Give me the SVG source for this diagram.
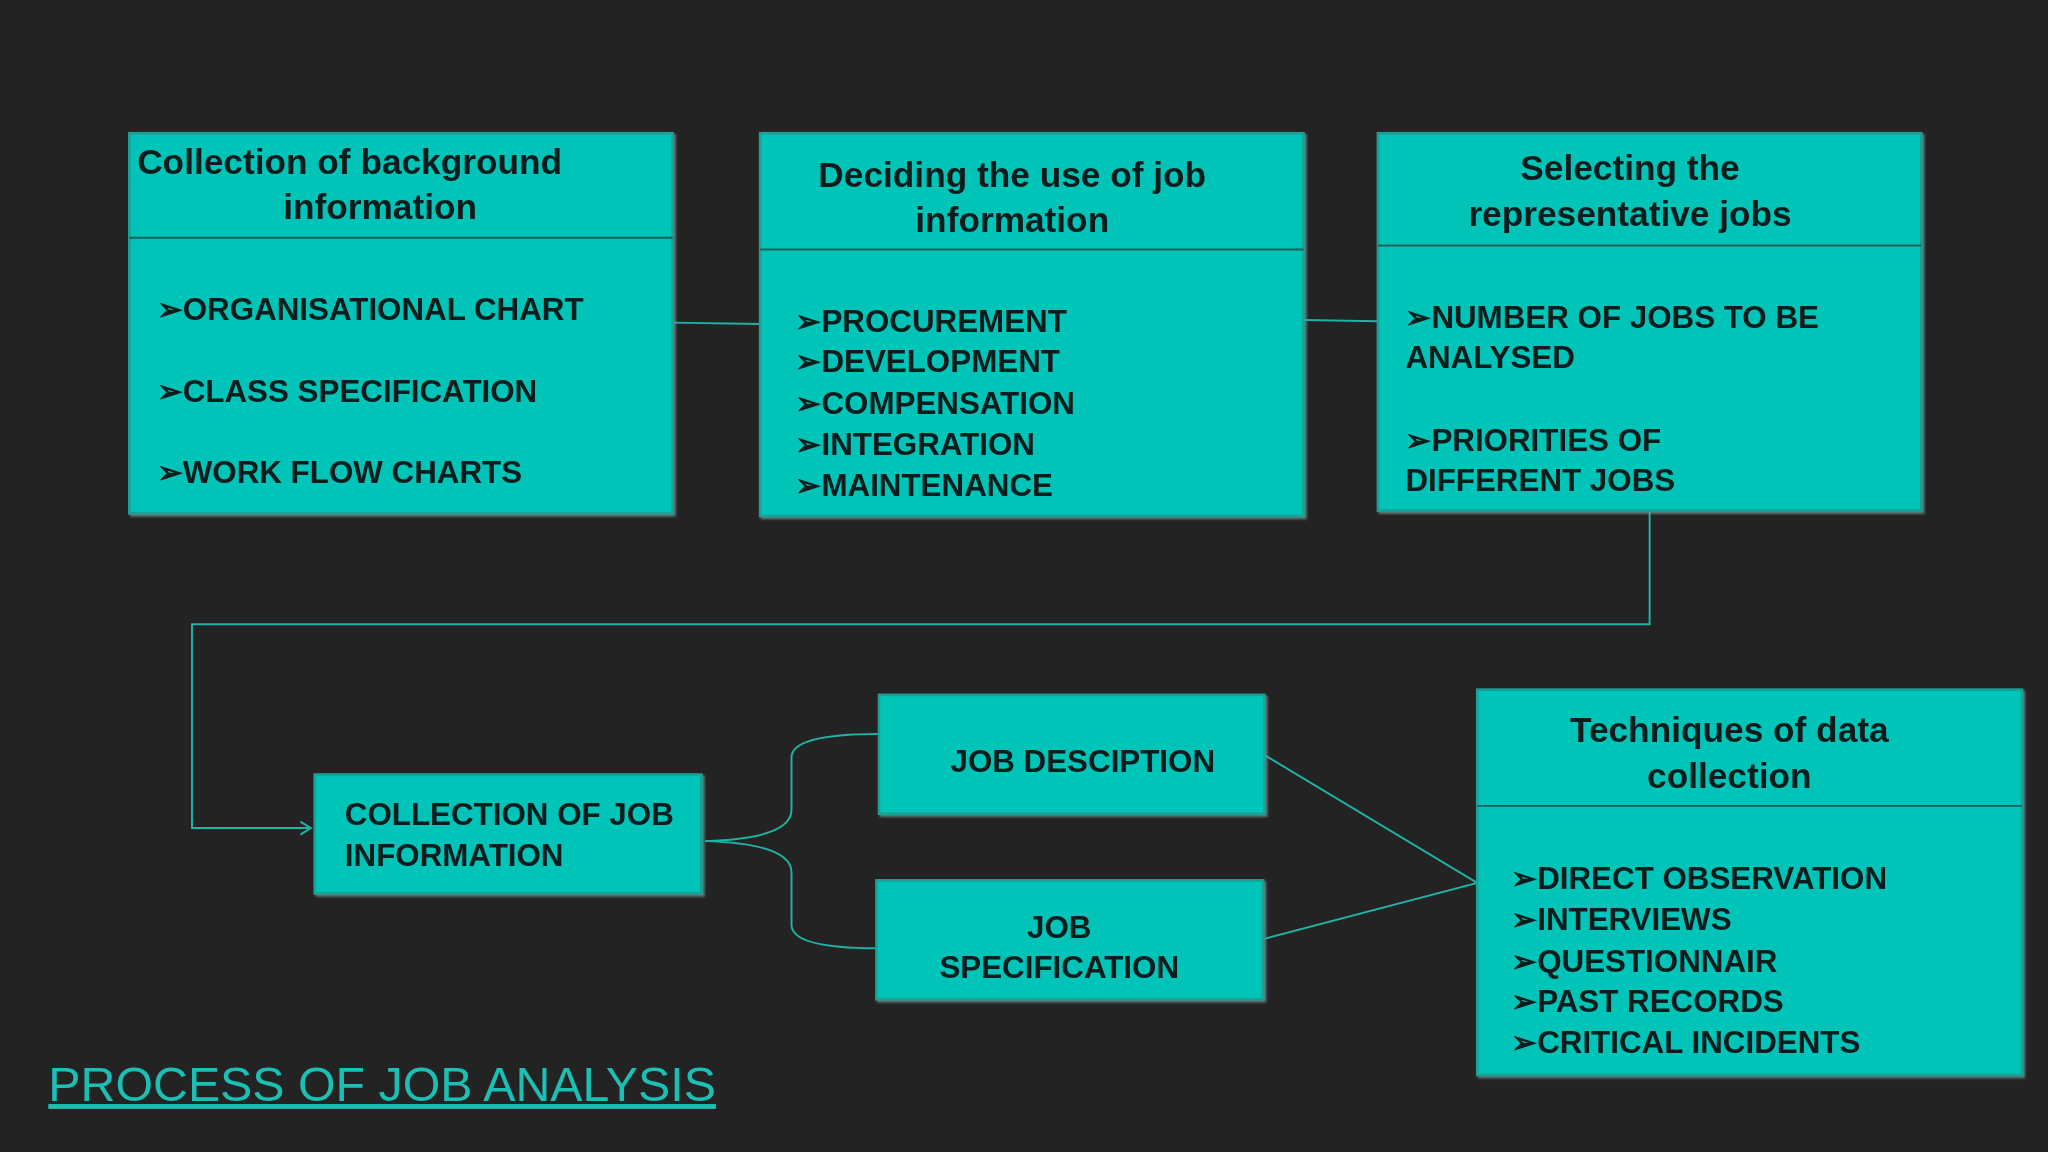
<svg xmlns="http://www.w3.org/2000/svg" width="2048" height="1152" viewBox="0 0 2048 1152">
<defs>
<style>
.box{fill:#00c4b8;stroke:#1a9f96;stroke-width:2}
.div{stroke:#13605a;stroke-width:1.5}
.h{font-family:"Liberation Sans",Arial,sans-serif;font-weight:bold;font-size:27px;fill:#0d1a1a}
.t{font-family:"Liberation Sans",Arial,sans-serif;font-weight:bold;font-size:24px;fill:#0d1a1a}
.c{fill:none;stroke:#1fb3a8;stroke-width:1.5}
</style>
<filter id="sh" x="-5%" y="-20%" width="110%" height="140%"><feDropShadow dx="1.5" dy="1.5" stdDeviation="1" flood-color="#6a8f8c" flood-opacity="0.8"/></filter>
<marker id="ar" markerWidth="12" markerHeight="12" refX="10" refY="6" orient="auto" markerUnits="userSpaceOnUse"><path d="M2,1 L10,6 L2,11" fill="none" stroke="#1fb3a8" stroke-width="1.5"/></marker>
</defs>
<rect width="2048" height="1152" fill="#232323"/>
<g transform="scale(1.30612)">
<g id="connectors">
<path class="c" d="M515,247 L582,248"/>
<path class="c" d="M998,245 L1055,246"/>
<path class="c" d="M1263,391 L1263,478 L147,478 L147,634 L238,634" marker-end="url(#ar)"/>
<path class="c" d="M540,644 Q606,642 606,620 L606,580 Q606,562 672,562"/>
<path class="c" d="M540,644 Q606,646 606,668 L606,708 Q606,726 671,726"/>
<path class="c" d="M968,578 L1131,676 L967,719"/>
</g>
<g id="n1" filter="url(#sh)">
<rect class="box" x="99" y="102" width="416" height="291"/>
<line class="div" x1="99" y1="182" x2="515" y2="182"/>
<text class="h" x="105" y="133">Collection of background</text>
<text class="h" x="291" y="168" text-anchor="middle">information</text>
<text class="t" x="120" y="245">➢ORGANISATIONAL CHART</text>
<text class="t" x="120" y="308">➢CLASS SPECIFICATION</text>
<text class="t" x="120" y="370">➢WORK FLOW CHARTS</text>
</g>
<g id="n2" filter="url(#sh)">
<rect class="box" x="582" y="102" width="416" height="293"/>
<line class="div" x1="582" y1="191" x2="998" y2="191"/>
<text class="h" x="775" y="143" text-anchor="middle">Deciding the use of job</text>
<text class="h" x="775" y="178" text-anchor="middle">information</text>
<text class="t" x="609" y="254">➢PROCUREMENT</text>
<text class="t" x="609" y="285">➢DEVELOPMENT</text>
<text class="t" x="609" y="317">➢COMPENSATION</text>
<text class="t" x="609" y="348">➢INTEGRATION</text>
<text class="t" x="609" y="380">➢MAINTENANCE</text>
</g>
<g id="n3" filter="url(#sh)">
<rect class="box" x="1055" y="102" width="416" height="289"/>
<line class="div" x1="1055" y1="188" x2="1471" y2="188"/>
<text class="h" x="1248" y="138" text-anchor="middle">Selecting the</text>
<text class="h" x="1248" y="173" text-anchor="middle">representative jobs</text>
<text class="t" x="1076" y="251">➢NUMBER OF JOBS TO BE</text>
<text class="t" x="1076" y="282">ANALYSED</text>
<text class="t" x="1076" y="345">➢PRIORITIES OF</text>
<text class="t" x="1076" y="376">DIFFERENT JOBS</text>
</g>
<g id="n4" filter="url(#sh)">
<rect class="box" x="241" y="593" width="296" height="91"/>
<text class="t" x="264" y="632">COLLECTION OF JOB</text>
<text class="t" x="264" y="663">INFORMATION</text>
</g>
<g id="n5" filter="url(#sh)">
<rect class="box" x="673" y="532" width="295" height="91"/>
<text class="t" x="829" y="591" text-anchor="middle">JOB DESCIPTION</text>
</g>
<g id="n6" filter="url(#sh)">
<rect class="box" x="671" y="674" width="296" height="91"/>
<text class="t" x="811" y="718" text-anchor="middle">JOB</text>
<text class="t" x="811" y="749" text-anchor="middle">SPECIFICATION</text>
</g>
<g id="n7" filter="url(#sh)">
<rect class="box" x="1131" y="528" width="417" height="295"/>
<line class="div" x1="1131" y1="617" x2="1548" y2="617"/>
<text class="h" x="1324" y="568" text-anchor="middle">Techniques of data</text>
<text class="h" x="1324" y="603" text-anchor="middle">collection</text>
<text class="t" x="1157" y="681">➢DIRECT OBSERVATION</text>
<text class="t" x="1157" y="712">➢INTERVIEWS</text>
<text class="t" x="1157" y="744">➢QUESTIONNAIR</text>
<text class="t" x="1157" y="775">➢PAST RECORDS</text>
<text class="t" x="1157" y="806">➢CRITICAL INCIDENTS</text>
</g>
<g id="title">
<text x="37" y="843" font-family="Liberation Sans,Arial,sans-serif" font-size="37" fill="#1cbfb4" text-decoration="underline">PROCESS OF JOB ANALYSIS</text>
</g>
</g>
</svg>
